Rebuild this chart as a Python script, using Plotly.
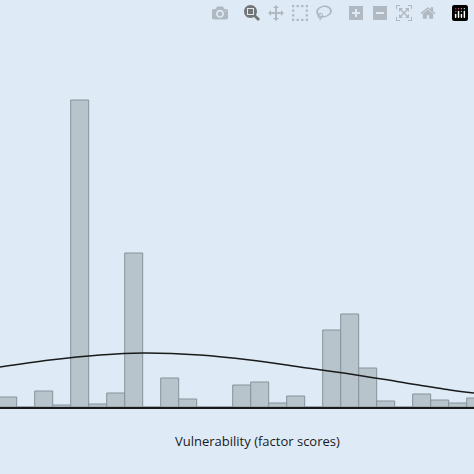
import plotly.graph_objects as go

# bin centres (factor score axis, arbitrary units) and bar heights
bin_centres = [7.7 + 18 * k for k in range(27)]
counts = [10, 0, 16, 2, 307, 3, 14, 154, 0, 29, 8, 0, 0, 22, 25, 4, 11, 0,
          77, 93, 39, 6, 0, 13, 7, 4, 9]

# fitted normal curve
curve_x = [0, 50, 100, 143, 200, 250, 300, 350, 400, 450, 474]
curve_y = [40, 47, 52, 54, 52, 47, 40, 33, 25, 17, 14]

fig = go.Figure()
fig.add_trace(go.Bar(x=bin_centres, y=counts, width=18,
                     marker=dict(color="#b8c4cc", line=dict(color="#87929a", width=1))))
fig.add_trace(go.Scatter(x=curve_x, y=curve_y, mode="lines",
                         line=dict(color="#1a1a1a", width=1.5, shape="spline")))

fig.update_layout(
    width=474, height=474,
    margin=dict(l=0, r=0, t=0, b=67),
    paper_bgcolor="#deebf6", plot_bgcolor="#deebf6",
    showlegend=False,
    xaxis=dict(range=[0, 474], showgrid=False, zeroline=False, showticklabels=False,
               showline=True, linecolor="#1a1a1a", linewidth=1.5, ticks=""),
    yaxis=dict(range=[0, 407], showgrid=False, zeroline=False, showticklabels=False,
               showline=False),
    annotations=[dict(text="Vulnerability (factor scores)", x=257, y=-(441 - 407) / 407,
                      xref="x", yref="paper", yanchor="middle", showarrow=False,
                      font=dict(family="Open Sans", size=13, color="#1a1a1a"))],
)

fig.write_html("out.html",
               post_script="document.body.style.margin='0';document.body.style.background='#deebf6';")
